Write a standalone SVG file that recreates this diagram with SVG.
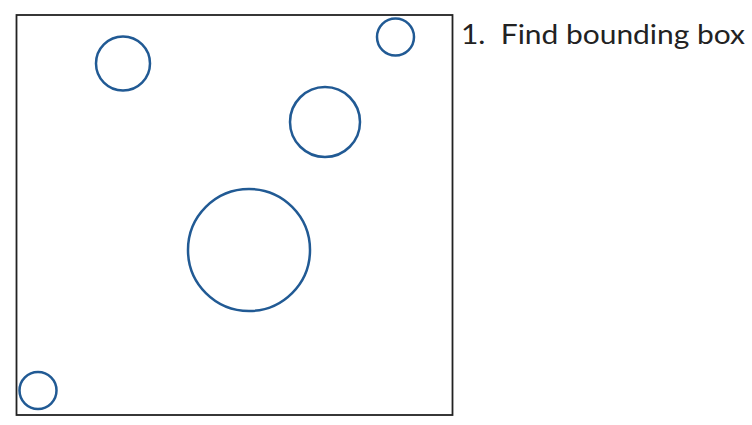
<svg xmlns="http://www.w3.org/2000/svg" width="752" height="425" viewBox="0 0 752 425">
<style>
.c{fill:none;stroke:#215a94;stroke-width:2.5}
.box{fill:#fff;stroke:#222;stroke-width:1.8}
.t{font-family:Lato,"Open Sans",sans-serif;font-size:27px;font-weight:400;fill:#222}
</style>
<rect width="752" height="425" fill="#fff"/>
<g id="frame"><rect class="box" x="16.5" y="15" width="436" height="400"/></g>
<g id="circles">
<circle id="c1" class="c" cx="123" cy="63.5" r="27"/>
<circle id="c2" class="c" cx="395.5" cy="37" r="18.5"/>
<circle id="c3" class="c" cx="325" cy="122" r="35"/>
<circle id="c4" class="c" cx="249" cy="250" r="61"/>
<circle id="c5" class="c" cx="38" cy="390.5" r="18.5"/>
</g>
<g id="label"><text class="t" x="461" y="44" textLength="284" lengthAdjust="spacingAndGlyphs" xml:space="preserve">1.  Find bounding box</text></g>
</svg>
